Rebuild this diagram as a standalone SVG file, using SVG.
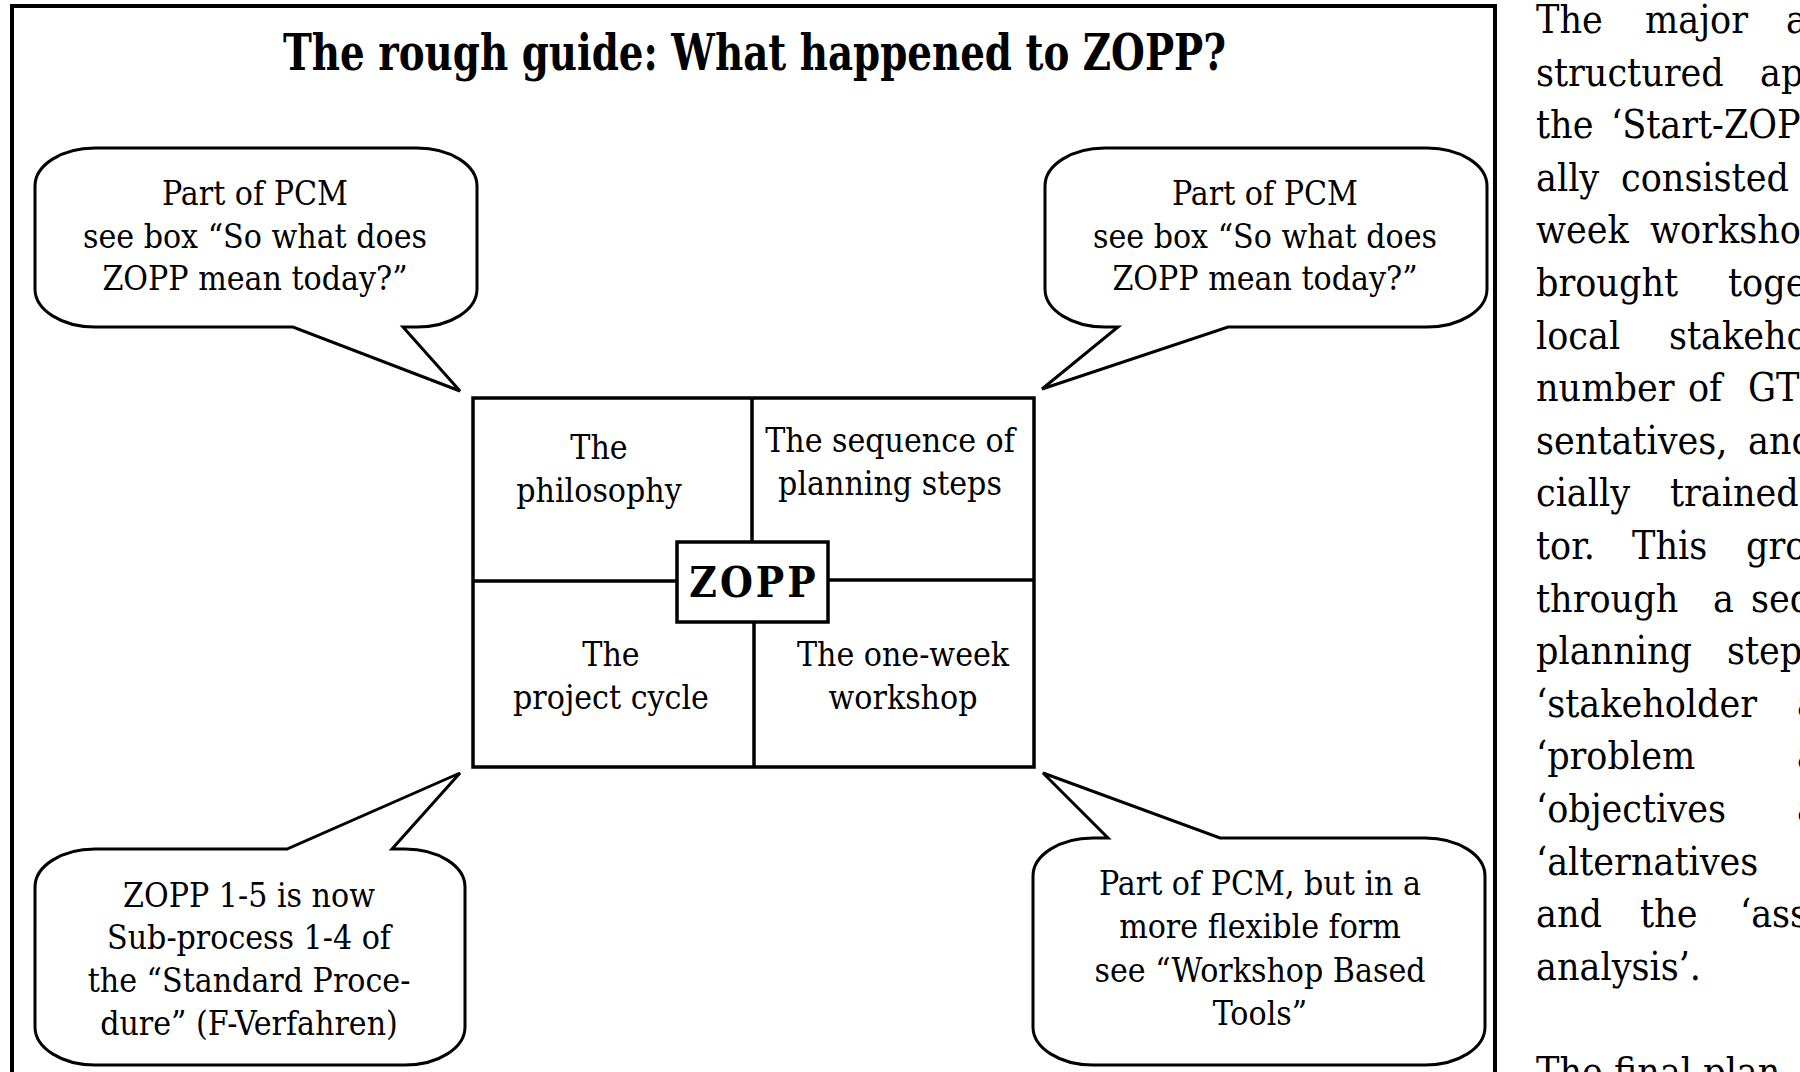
<svg xmlns="http://www.w3.org/2000/svg" width="1800" height="1072" viewBox="0 0 1800 1072">
<style>
.bg{fill:#fff}
.frame{fill:none;stroke:#000;stroke-width:4}
.bub{fill:#fff;stroke:#000;stroke-width:3;stroke-linejoin:miter}
.ln{fill:none;stroke:#000;stroke-width:3.5}
.t{font-family:"DejaVu Serif Condensed","DejaVu Serif","Liberation Serif",serif;font-size:33.5px;fill:#000;text-anchor:middle}
.title{font-family:"DejaVu Serif Condensed","DejaVu Serif","Liberation Serif",serif;font-weight:bold;font-size:50px;fill:#000}
.zopp{font-family:"DejaVu Serif Condensed","DejaVu Serif","Liberation Serif",serif;font-weight:bold;font-size:42px;fill:#000;text-anchor:middle;letter-spacing:3px}
.body{font-family:"DejaVu Serif Condensed","DejaVu Serif","Liberation Serif",serif;font-size:39px;fill:#000}
</style>
<rect class="bg" x="0" y="0" width="1800" height="1072"/>
<rect class="frame" x="12" y="6" width="1483" height="1100"/>
<text class="title" x="283" y="70" textLength="943" lengthAdjust="spacingAndGlyphs">The rough guide: What happened to ZOPP?</text>

<g id="connectors"></g>

<g id="bubble-top-left">
<path class="bub" d="M95,148 H417 A60 38 0 0 1 477,186 V289 A60 38 0 0 1 417,327 H403 L460,391 L293,327 H95 A60 38 0 0 1 35,289 V186 A60 38 0 0 1 95,148 Z"/>
<text class="t" x="255" y="205">Part of PCM</text>
<text class="t" x="255" y="248">see box “So what does</text>
<text class="t" x="255" y="290">ZOPP mean today?”</text>
</g>

<g id="bubble-top-right">
<path class="bub" d="M1105,148 H1427 A60 38 0 0 1 1487,186 V289 A60 38 0 0 1 1427,327 H1228 L1042,389 L1118,327 H1105 A60 38 0 0 1 1045,289 V186 A60 38 0 0 1 1105,148 Z"/>
<text class="t" x="1265" y="205">Part of PCM</text>
<text class="t" x="1265" y="248">see box “So what does</text>
<text class="t" x="1265" y="290">ZOPP mean today?”</text>
</g>

<g id="bubble-bottom-left">
<path class="bub" d="M95,849 H287 L460,773 L392,849 H405 A60 38 0 0 1 465,887 V1027 A60 38 0 0 1 405,1065 H95 A60 38 0 0 1 35,1027 V887 A60 38 0 0 1 95,849 Z"/>
<text class="t" x="249" y="907">ZOPP 1-5 is now</text>
<text class="t" x="249" y="949">Sub-process 1-4 of</text>
<text class="t" x="249" y="992">the “Standard Proce-</text>
<text class="t" x="249" y="1035">dure” (F-Verfahren)</text>
</g>

<g id="bubble-bottom-right">
<path class="bub" d="M1093,838 H1108 L1043,773 L1220,838 H1425 A60 38 0 0 1 1485,876 V1027 A60 38 0 0 1 1425,1065 H1093 A60 38 0 0 1 1033,1027 V876 A60 38 0 0 1 1093,838 Z"/>
<text class="t" x="1260" y="895">Part of PCM, but in a</text>
<text class="t" x="1260" y="938">more flexible form</text>
<text class="t" x="1260" y="982">see “Workshop Based</text>
<text class="t" x="1260" y="1025">Tools”</text>
</g>

<g id="zopp-grid">
<rect class="ln" x="473" y="398" width="561" height="369"/>
<line class="ln" x1="752" y1="398" x2="752" y2="542"/>
<line class="ln" x1="754" y1="622" x2="754" y2="767"/>
<line class="ln" x1="473" y1="581" x2="677" y2="581"/>
<line class="ln" x1="828" y1="580" x2="1034" y2="580"/>
</g>

<g id="cell-philosophy">
<text class="t" x="599" y="459">The</text>
<text class="t" x="599" y="502">philosophy</text>
</g>
<g id="cell-sequence">
<text class="t" x="890" y="452">The sequence of</text>
<text class="t" x="890" y="495">planning steps</text>
</g>
<g id="cell-project-cycle">
<text class="t" x="611" y="666">The</text>
<text class="t" x="611" y="709">project cycle</text>
</g>
<g id="cell-workshop">
<text class="t" x="903" y="666">The one-week</text>
<text class="t" x="903" y="709">workshop</text>
</g>

<g id="zopp-center">
<rect class="ln" x="677" y="542" width="151" height="80" fill="#fff"/>
<text class="zopp" x="754" y="597">ZOPP</text>
</g>

<g id="side-text" class="body">
<text x="1536" y="33">The</text><text x="1645" y="33">major</text><text x="1786" y="33">a</text>
<text x="1536" y="86">structured</text><text x="1760" y="86">ap</text>
<text x="1536" y="138">the</text><text x="1611" y="138">‘Start-ZOPP</text>
<text x="1536" y="191">ally</text><text x="1621" y="191">consisted</text>
<text x="1536" y="243">week</text><text x="1650" y="243">workshop</text>
<text x="1536" y="296">brought</text><text x="1728" y="296">together</text>
<text x="1536" y="349">local</text><text x="1669" y="349">stakeholders</text>
<text x="1536" y="401">number</text><text x="1688" y="401">of</text><text x="1748" y="401">GTZ</text>
<text x="1536" y="454">sentatives,</text><text x="1748" y="454">and</text>
<text x="1536" y="506">cially</text><text x="1670" y="506">trained</text>
<text x="1536" y="559">tor.</text><text x="1632" y="559">This</text><text x="1746" y="559">group</text>
<text x="1536" y="612">through</text><text x="1713" y="612">a</text><text x="1751" y="612">sequence</text>
<text x="1536" y="664">planning</text><text x="1727" y="664">steps</text>
<text x="1536" y="717">‘stakeholder</text><text x="1797" y="717">analysis’</text>
<text x="1536" y="769">‘problem</text><text x="1797" y="769">analysis’</text>
<text x="1536" y="822">‘objectives</text><text x="1797" y="822">analysis’</text>
<text x="1536" y="875">‘alternatives</text>
<text x="1536" y="927">and</text><text x="1640" y="927">the</text><text x="1740" y="927">‘assumptions</text>
<text x="1536" y="980">analysis’.</text>
<text x="1536" y="1085">The final plan</text>
</g>
</svg>
